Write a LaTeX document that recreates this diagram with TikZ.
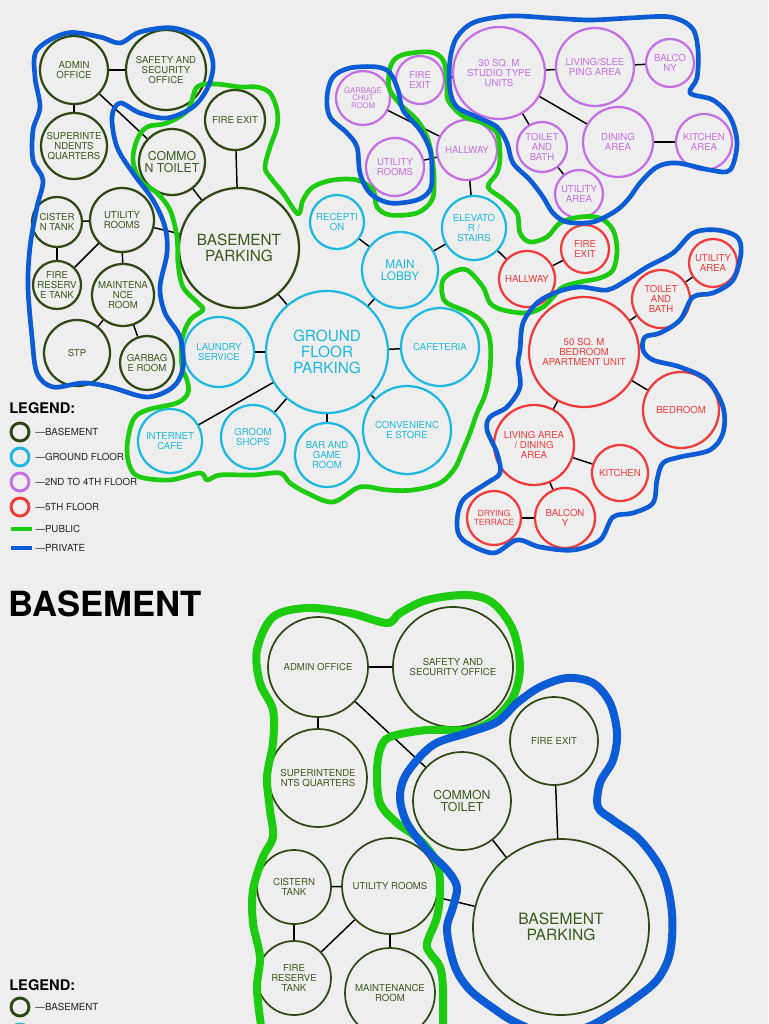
\documentclass[tikz,border=0pt]{standalone}
\usepackage{fontspec}
\setmainfont{TeX Gyre Heros}
\definecolor{bas}{HTML}{2E4A14}
\definecolor{basT}{HTML}{3A5A1C}
\definecolor{gfl}{HTML}{1DB9DF}
\definecolor{pur}{HTML}{C46FE3}
\definecolor{red5}{HTML}{F23A3A}
\definecolor{pubg}{HTML}{1DCB10}
\definecolor{privb}{HTML}{0B5CD5}
\definecolor{paper}{HTML}{EEEEEE}
\definecolor{legtxt}{HTML}{222222}
\tikzset{
 room/.style={circle, draw, inner sep=0pt, align=center, font=\fontsize{7.2}{7.5}\selectfont},
 rad/.style={minimum size={#1*1.5pt}},
 rb/.style={room, draw=bas, text=basT, line width=1.7pt},
 rbb/.style={room, draw=bas, text=basT, line width=1.3pt},
 rg/.style={room, draw=gfl, text=gfl, line width=1.7pt},
 rp/.style={room, draw=pur, text=pur, line width=1.7pt},
 rr/.style={room, draw=red5, text=red5, line width=1.7pt},
 bigf/.style={font=\fontsize{11.5}{11.8}\selectfont},
 midf/.style={font=\fontsize{9.2}{9.2}\selectfont},
 link/.style={draw=black, line width=1.1pt},
 pub/.style={draw=pubg, line width=3.5pt, line join=round, line cap=round},
 priv/.style={draw=privb, line width=3.5pt, line join=round, line cap=round},
 legc/.style={circle, draw, line width=2.2pt, minimum size=13.5pt, inner sep=0pt},
 legt/.style={anchor=west, text=legtxt, font=\fontsize{7.3}{7.3}\selectfont, inner sep=0pt},
}
\begin{document}
\begin{tikzpicture}[x=0.75pt,y=-0.75pt]
\useasboundingbox (0,0) rectangle (768,1024);
\clip (0,0) rectangle (768,1024);
\fill[paper] (0,0) rectangle (768,1024);

% ---------- top: basement ----------
\node[rb, rad=34] (adm) at (74,70) {ADMIN\\OFFICE};
\node[rb, rad=40] (saf) at (166,70) {SAFETY AND\\SECURITY\\OFFICE};
\node[rb, rad=33] (sup) at (74,146) {SUPERINTE\\NDENTS\\QUARTERS};
\node[rb, rad=33, midf] (ctl) at (172,162) {COMMO\\N TOILET};
\node[rb, rad=30] (fex) at (235,120) {FIRE EXIT};
\node[rb, rad=60, bigf] (bpk) at (239,248) {BASEMENT\\PARKING};
\node[rb, rad=25] (cis) at (57,222) {CISTER\\N TANK};
\node[rb, rad=32] (uti) at (122,220) {UTILITY\\ROOMS};
\node[rb, rad=24] (frt) at (57,285) {FIRE\\RESERV\\E TANK};
\node[rb, rad=31] (mnt) at (123,295) {MAINTENA\\NCE\\ROOM};
\node[rb, rad=33] (stp) at (77,353) {STP};
\node[rb, rad=27] (gar) at (147,363) {GARBAG\\E ROOM};

% ---------- ground floor ----------
\node[rg, rad=61, bigf] (gfp) at (327,352) {GROUND\\FLOOR\\PARKING};
\node[rg, rad=27] (rec) at (337,222) {RECEPTI\\ON};
\node[rg, rad=38, font=\fontsize{8.8}{9}\selectfont] (lob) at (400,270) {MAIN\\LOBBY};
\node[rg, rad=32] (elv) at (474,228) {ELEVATO\\R /\\STAIRS};
\node[rg, rad=39] (caf) at (440,347) {CAFETERIA};
\node[rg, rad=44] (cst) at (407,430) {CONVENIENC\\E STORE};
\node[rg, rad=32] (bar) at (327,455) {BAR AND\\GAME\\ROOM};
\node[rg, rad=32] (grm) at (253,437) {GROOM\\SHOPS};
\node[rg, rad=32] (int) at (170,441) {INTERNET\\CAFE};
\node[rg, rad=35] (lau) at (219,352) {LAUNDRY\\SERVICE};

% ---------- 2nd to 4th floor ----------
\node[rp, rad=27, font=\fontsize{5.8}{5.6}\selectfont] (pgc) at (363,98) {GARBAGE\\CHUT\\ROOM};
\node[rp, rad=24] (pfe) at (420,80) {FIRE\\EXIT};
\node[rp, rad=29] (put) at (395,167) {UTILITY\\ROOMS};
\node[rp, rad=30] (phw) at (467,150) {HALLWAY};
\node[rp, rad=46] (pst) at (499,73) {30 SQ. M\\STUDIO TYPE\\UNITS};
\node[rp, rad=39] (pls) at (595,67) {LIVING/SLEE\\PING AREA};
\node[rp, rad=24] (pbl) at (670,63) {BALCO\\NY};
\node[rp, rad=25] (ptb) at (542,147) {TOILET\\AND\\BATH};
\node[rp, rad=35] (pda) at (618,142) {DINING\\AREA};
\node[rp, rad=28] (pka) at (704,142) {KITCHEN\\AREA};
\node[rp, rad=24] (pua) at (579,194) {UTILITY\\AREA};

% ---------- 5th floor ----------
\node[rr, rad=28] (rhw) at (527,279) {HALLWAY};
\node[rr, rad=24] (rfe) at (585,249) {FIRE\\EXIT};
\node[rr, rad=29] (rtb) at (661,299) {TOILET\\AND\\BATH};
\node[rr, rad=24] (rua) at (713,263) {UTILITY\\AREA};
\node[rr, rad=55] (rap) at (584,352) {50 SQ. M\\BEDROOM\\APARTMENT UNIT};
\node[rr, rad=38] (rbd) at (681,410) {BEDROOM};
\node[rr, rad=40] (rld) at (534,445) {LIVING AREA\\/ DINING\\AREA};
\node[rr, rad=28] (rki) at (620,473) {KITCHEN};
\node[rr, rad=30] (rbl) at (565,518) {BALCON\\Y};
\node[rr, rad=27, font=\fontsize{6.4}{6.6}\selectfont] (rdt) at (494,518) {DRYING\\TERRACE};

% ---------- connectors (top) ----------
\foreach \a/\b in {adm/saf, adm/sup, adm/ctl, fex/bpk, ctl/bpk, uti/bpk, cis/uti, cis/frt, uti/frt, uti/mnt, mnt/stp, mnt/gar, bpk/gfp,
 gfp/lau, gfp/int, gfp/grm, gfp/bar, gfp/cst, gfp/caf, gfp/lob, lob/rec, lob/elv, elv/phw, elv/rhw,
 pgc/phw, put/phw, pfe/pst, pst/pls, pls/pbl, pst/ptb, pst/pda, pda/pka, ptb/pua,
 rhw/rfe, rap/rtb, rtb/rua, rap/rbd, rap/rld, rld/rki, rld/rbl, rbl/rdt}
 \draw[link] (\a) -- (\b);

% ---------- zones (top) ----------
\draw[pub] plot[smooth cycle, tension=0.55] coordinates {
(197,87) (215,84) (240,87) (257,87) (270,93) (277,110) (277,127) (270,147) (265,167) (270,177) (283,193) (298,214)
(303,200) (313,187) (333,180) (357,180) (373,190) (377,207) (390,215) (417,213) (432,200) (434,180) (432,157)
(427,137) (417,120) (399,103) (389,87) (391,65) (402,55) (430,52) (443,60) (447,80) (448,100) (463,116) (483,123)
(497,133) (500,157) (497,173) (488,187) (503,199) (517,213) (520,233) (530,242) (547,237) (560,223) (580,217)
(600,218) (613,230) (617,250) (613,270) (600,278) (580,282) (563,287) (553,297) (543,307) (527,313) (503,310)
(490,303) (483,287) (467,270) (453,272) (443,280) (442,293) (447,303) (470,313) (483,323) (490,340) (490,370)
(485,395) (477,413) (470,433) (463,450) (455,468) (440,483) (413,490) (387,490) (360,487) (333,502) (307,493)
(290,483) (280,473) (253,475) (220,475) (207,480) (200,473) (170,480) (140,477) (130,467) (127,447) (133,420)
(147,410) (177,403) (188,393) (187,380) (182,367) (182,340) (190,320) (203,310) (198,303) (183,287) (178,263)
(177,237) (170,210) (157,193) (140,180) (133,160) (137,140) (147,127) (167,123) (188,110)};

\draw[priv] plot[smooth cycle, tension=0.55] coordinates {
(37,50) (67,33) (100,37) (120,43) (140,32) (173,28) (203,40) (213,63) (208,87) (193,107) (167,118) (140,113)
(120,103) (112,117) (117,147) (133,173) (153,200) (165,227) (167,253) (160,287) (165,313) (180,337) (183,367)
(173,387) (147,397) (110,387) (83,383) (53,387) (37,373) (32,337) (28,287) (30,247) (37,207) (43,180) (33,160)
(33,130) (40,107) (35,77)};

\draw[priv] plot[smooth cycle, tension=0.55] coordinates {
(327,97) (333,77) (350,68) (377,67) (390,73) (398,90) (403,110) (420,130) (430,150) (432,173) (430,190) (417,200)
(390,203) (370,193) (360,173) (357,147) (347,133) (330,117)};

\draw[priv] plot[smooth cycle, tension=0.55] coordinates {
(450,60) (457,37) (475,22) (510,16) (550,18) (590,20) (630,18) (670,17) (692,28) (698,50) (697,78) (690,93)
(713,100) (730,117) (737,143) (730,170) (710,170) (677,163) (657,167) (640,183) (630,197) (617,210) (593,222)
(567,222) (553,213) (543,197) (530,180) (513,163) (507,143) (497,127) (477,117) (457,107) (450,90)};

\draw[priv] plot[smooth cycle, tension=0.55] coordinates {
(520,350) (523,323) (537,303) (557,292) (580,287) (607,290) (627,280) (647,267) (673,253) (693,233) (717,230)
(737,237) (741,253) (733,280) (713,293) (693,297) (680,320) (660,333) (645,337) (643,350) (653,360) (680,367)
(707,380) (723,407) (723,433) (710,450) (680,457) (663,463) (657,480) (653,503) (633,513) (613,517) (600,540)
(573,550) (540,547) (517,540) (493,553) (463,540) (457,523) (463,500) (487,483) (500,473) (497,453) (487,430)
(490,417) (507,407) (520,387) (518,363)};

% ---------- legend (top) ----------
\node[anchor=west, inner sep=0pt, text=black, font=\bfseries\fontsize{11}{11}\selectfont] (leg1) at (9,408) {LEGEND:};
\node[legc, draw=bas] (lc1) at (20,432) {};
\node[legt] (lt1) at (35,432) {—BASEMENT};
\node[legc, draw=gfl] (lc2) at (20,457) {};
\node[legt] (lt2) at (35,457) {—GROUND FLOOR};
\node[legc, draw=pur] (lc3) at (20,482) {};
\node[legt] (lt3) at (35,482) {—2ND TO 4TH FLOOR};
\node[legc, draw=red5] (lc4) at (20,507) {};
\node[legt] (lt4) at (35,507) {—5TH FLOOR};
\draw[draw=pubg, line width=2.6pt] (11,529) -- (32,529);
\node[legt] (lt5) at (35,529) {—PUBLIC};
\draw[draw=privb, line width=2.6pt] (11,548) -- (32,548);
\node[legt] (lt6) at (35,548) {—PRIVATE};

\node[anchor=west, inner sep=0pt, text=black, font=\bfseries\fontsize{26}{26}\selectfont] (head) at (8,604) {BASEMENT};

% ---------- bottom: enlarged basement ----------
\node[rbb, rad=50] (Badm) at (318,667) {ADMIN OFFICE};
\node[rbb, rad=60] (Bsaf) at (453,667) {SAFETY AND\\SECURITY OFFICE};
\node[rbb, rad=49] (Bsup) at (318,778) {SUPERINTENDE\\NTS QUARTERS};
\node[rbb, rad=49, midf] (Bctl) at (462,801) {COMMON\\TOILET};
\node[rbb, rad=44] (Bfex) at (554,741) {FIRE EXIT};
\node[rbb, rad=88, font=\fontsize{11.7}{12}\selectfont] (Bbpk) at (561,927) {BASEMENT\\PARKING};
\node[rbb, rad=37] (Bcis) at (294,887) {CISTERN\\TANK};
\node[rbb, rad=48] (But) at (390,886) {UTILITY ROOMS};
\node[rbb, rad=37] (Bfrt) at (294,978) {FIRE\\RESERVE\\TANK};
\node[rbb, rad=45] (Bmnt) at (390,993) {MAINTENANCE\\ROOM};

\foreach \a/\b in {Badm/Bsaf, Badm/Bsup, Badm/Bctl, Bctl/Bbpk, Bfex/Bbpk, But/Bbpk, Bcis/But, Bcis/Bfrt, Bfrt/But, But/Bmnt}
 \draw[link] (\a) -- (\b);

\draw[pub, line width=6pt] plot[smooth, tension=0.55] coordinates {
(263,1040) (257,990) (260,957) (253,923) (253,890) (263,857) (273,837) (270,810) (267,777) (273,743) (273,710)
(260,683) (257,650) (273,617) (307,608) (350,613) (387,623) (400,613) (427,600) (467,595) (493,603) (513,630)
(520,667) (513,697) (493,720) (467,730) (427,730) (390,737) (380,750) (377,773) (380,803) (397,823) (420,840)
(437,863) (440,890) (437,917) (427,943) (430,953) (440,967) (443,990) (443,1040)};

\draw[priv, line width=6pt] plot[smooth cycle, tension=0.55] coordinates {
(433,745) (467,733) (497,722) (517,703) (540,687) (567,678) (593,683) (610,703) (617,733) (613,760) (600,783)
(598,807) (613,820) (640,840) (663,873) (672,913) (670,953) (657,980) (633,1000) (610,1015) (585,1028) (550,1035)
(515,1022) (493,1008) (470,990) (455,967) (447,930) (453,907) (457,887) (447,870) (427,850) (407,823) (400,797)
(407,773)};

% ---------- legend (bottom) ----------
\node[anchor=west, inner sep=0pt, text=black, font=\bfseries\fontsize{11}{11}\selectfont] (leg2) at (9,985) {LEGEND:};
\node[legc, draw=bas] (lc5) at (20,1007) {};
\node[legt] (lt7) at (35,1007) {—BASEMENT};
\node[legc, draw=gfl] (lc6) at (20,1033) {};
\end{tikzpicture}
\end{document}
